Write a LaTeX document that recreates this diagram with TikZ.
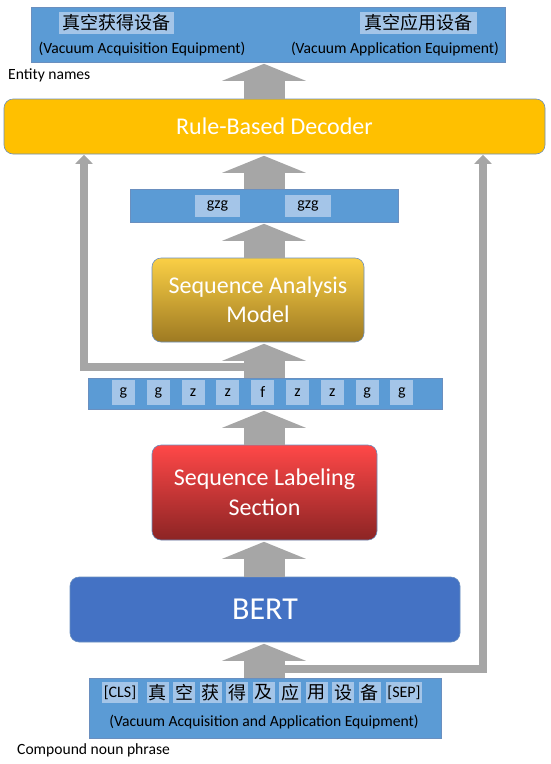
\documentclass[tikz,border=0pt]{standalone}
\usepackage{fontspec}
\setmainfont{Carlito}
\newfontfamily\cjk{Noto Sans CJK SC}
\usepackage{tikz}
\usetikzlibrary{arrows.meta, positioning, calc}
\usepackage{xcolor}
\definecolor{stripblue}{HTML}{5B9BD5}
\definecolor{cellblue}{HTML}{A4C5E8}
\definecolor{bertblue}{HTML}{4472C4}
\definecolor{decgold}{HTML}{FFC000}
\definecolor{edgeblue}{HTML}{6A8FBF}
\definecolor{flowgray}{HTML}{A6A6A6}
\definecolor{samtop}{HTML}{FACF45}
\definecolor{sambot}{HTML}{9E7A22}
\definecolor{labtop}{HTML}{FF4848}
\definecolor{labbot}{HTML}{8C2424}

\tikzset{
  stripbox/.style={draw=edgeblue, line width=0.6pt, fill=stripblue, inner sep=0pt},
  cell/.style={fill=cellblue, inner sep=0pt, minimum height=22pt, font=\fontsize{16}{18}\selectfont},
  hanzi/.style={font=\cjk\fontsize{18}{20}\selectfont},
  block/.style={draw=edgeblue, line width=0.6pt, rounded corners=9pt, inner sep=0pt, text=white, align=center},
  bigflow/.style={draw=flowgray, line width=41pt, -{Triangle[width=83pt, length=17pt]}, shorten >=1.5pt},
  sideflow/.style={draw=flowgray, line width=8pt, -{Triangle[width=17pt, length=9pt]}, shorten >=0.5pt},
  caption/.style={anchor=west, inner sep=0pt, font=\fontsize{15.6}{18}\selectfont}
}

\begin{document}
\begin{tikzpicture}[x=1pt, y=-1pt, font=\fontsize{15.6}{18}\selectfont]
  \useasboundingbox (0,0) rectangle (550,764);
  \coordinate (spine) at (264,0);
  % entity strip on top
  \node[stripbox, minimum width=474pt, minimum height=55pt] (entities) at (268,34.5) {};
  \node[cell, hanzi, minimum width=115pt] (ent1) at (116.5,23) {真空获得设备};
  \node[cell, hanzi, minimum width=117pt] (ent2) at (418.5,23) {真空应用设备};
  \node (gloss1) at (142,49) {(Vacuum Acquisition Equipment)};
  \node (gloss2) at (395,49) {(Vacuum Application Equipment)};
  \node[caption] (entcap) at (8,75) {Entity names};
  % decoder
  \node[block, fill=decgold, minimum width=541pt, minimum height=55pt,
        font=\fontsize{24}{28}\selectfont] (decoder) at (274.5,126.5) {Rule-Based Decoder};
  % gzg chunks
  \node[stripbox, minimum width=268pt, minimum height=33pt] (chunks) at (264,205.5) {};
  \node[cell, minimum width=45pt] (chunk1) at (217.5,206) {gzg};
  \node[cell, minimum width=46pt] (chunk2) at (308,206) {gzg};
  % analysis model
  \node[block, top color=samtop, bottom color=sambot, minimum width=212pt, minimum height=84pt,
        font=\fontsize{24}{29}\selectfont] (analysis) at (258,300) {Sequence Analysis\\Model};
  % per-character tags
  \node[stripbox, minimum width=354pt, minimum height=31pt] (tags) at (265,393.5) {};
  \foreach \t [count=\i from 0] in {g,g,z,z,f,z,z,g,g}
    \node[cell, minimum width=23pt, minimum height=25pt] (tag\i) at (123.5+34.8*\i,392.5) {\t};
  % labeling section
  \node[block, top color=labtop, bottom color=labbot, minimum width=225pt, minimum height=95pt,
        font=\fontsize{24}{30}\selectfont] (labeler) at (264.5,492.5) {Sequence Labeling\\Section};
  % encoder
  \node[block, fill=bertblue, minimum width=390pt, minimum height=65pt,
        font=\fontsize{32}{36}\selectfont] (bert) at (265,609.5) {BERT};
  % input phrase
  \node[stripbox, minimum width=352pt, minimum height=60pt] (phrase) at (265,708) {};
  \node[cell, minimum width=36pt, minimum height=21pt] (cls) at (120,692.5) {[CLS]};
  \foreach \ch [count=\i from 0] in {真,空,获,得,及,应,用,设,备}
    \node[cell, hanzi, minimum width=22pt, minimum height=21pt] (tok\i) at (157.5+26.5*\i,692.5) {\ch};
  \node[cell, minimum width=36pt, minimum height=21pt] (sep) at (404,692.5) {[SEP]};
  \node (gloss) at (264,722) {(Vacuum Acquisition and Application Equipment)};
  \node[caption] (phrasecap) at (17,750) {Compound noun phrase};

  % side routes straight to the decoder
  \coordinate (lturn) at (84,367);
  \coordinate (rturn) at (483,669);
  \draw[sideflow] (spine |- lturn) -- (lturn) -- (lturn |- decoder.south);
  \draw[sideflow] (spine |- rturn) -- (rturn) -- (rturn |- decoder.south);
  % main flow upwards
  \draw[bigflow] (phrase.north -| spine) -- (bert.south -| spine);
  \draw[bigflow] (bert.north -| spine) -- (labeler.south -| spine);
  \draw[bigflow] (labeler.north -| spine) -- (tags.south -| spine);
  \draw[bigflow] (tags.north -| spine) -- (analysis.south -| spine);
  \draw[bigflow] (analysis.north -| spine) -- (chunks.south -| spine);
  \draw[bigflow] (chunks.north -| spine) -- (decoder.south -| spine);
  \draw[bigflow] (decoder.north -| spine) -- (entities.south -| spine);
\end{tikzpicture}
\end{document}
